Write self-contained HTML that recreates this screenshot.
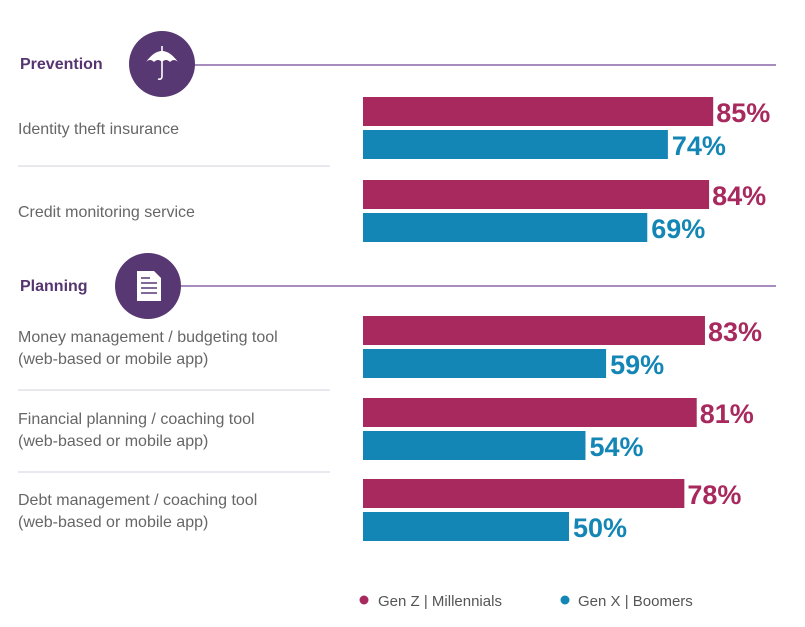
<!DOCTYPE html>
<html><head><meta charset="utf-8"><style>
body{margin:0;background:#fff;width:805px;height:622px;overflow:hidden;font-family:"Liberation Sans",sans-serif}
svg text{font-family:"Liberation Sans",sans-serif}
</style></head><body>
<svg width="805" height="622">
<g>
<text x="20" y="69" font-size="16" font-weight="bold" fill="#55356f">Prevention</text>
<line x1="190" y1="65" x2="776" y2="65" stroke="#a68cbf" stroke-width="2"/>
<circle cx="162" cy="64" r="33" fill="#573873"/>
<path d="M146 62 Q162 40 178 62 Q174 58 170 62 Q166 58 162 62 Q158 58 154 62 Q150 58 146 62Z" fill="#fff"/>
<line x1="162" y1="46" x2="162" y2="76" stroke="#fff" stroke-width="1.6"/>
<path d="M162 76 Q162 80 158 79" stroke="#fff" stroke-width="1.6" fill="none"/>
</g>
<g>
<text x="20" y="291" font-size="16" font-weight="bold" fill="#55356f">Planning</text>
<line x1="175" y1="286" x2="776" y2="286" stroke="#a68cbf" stroke-width="2"/>
<circle cx="148" cy="286" r="33" fill="#573873"/>
<path d="M137 271 H154 L161 278 V301 H137Z" fill="#fff"/>
<g stroke="#573873" stroke-width="1.5"><line x1="141" y1="283" x2="157" y2="283"/><line x1="141" y1="288" x2="157" y2="288"/><line x1="141" y1="293" x2="157" y2="293"/><line x1="141" y1="278" x2="150" y2="278"/></g>
</g>
<g id="rows"></g>
<g>
<circle cx="364" cy="600" r="4.5" fill="#a8295e"/>
<text x="378" y="606" font-size="15" fill="#555">Gen Z  |  Millennials</text>
<circle cx="565" cy="600" r="4.5" fill="#1386b5"/>
<text x="578" y="606" font-size="15" fill="#555">Gen X  |  Boomers</text>
</g>
</svg>
<script>
const categories=[["Identity theft insurance"],["Credit monitoring service"],["Money management / budgeting tool","(web-based or mobile app)"],["Financial planning / coaching tool","(web-based or mobile app)"],["Debt management / coaching tool","(web-based or mobile app)"]];
const genZ=[85,84,83,81,78];
const genX=[74,69,59,54,50];
const rowTops=[97,180,316,398,479];
const x0=363, k=4.12, bh=29;
const xs=v=>k*v;
const g=document.getElementById('rows');
const NS='http://www.w3.org/2000/svg';
function mk(t,a){const e=document.createElementNS(NS,t);for(const n in a)e.setAttribute(n,a[n]);g.appendChild(e);return e;}
categories.forEach((c,i)=>{
 const y=rowTops[i];
 const mid=y+31;
 c.forEach((l,j)=>{const t=mk('text',{x:18,y:(c.length==1?mid+6:mid-5+j*22),'font-size':16,fill:'#666'});t.textContent=l;
 
 });
 const b1=mk('rect',{x:x0,y:y,width:xs(genZ[i]),height:bh,fill:'#a8295e'});
 
 
 const t1=mk('text',{x:x0+xs(genZ[i])+3,y:y+25,'font-size':27,'font-weight':'bold',fill:'#a8295e'});t1.textContent=genZ[i]+'%';
 
 
 const b2=mk('rect',{x:x0,y:y+33,width:xs(genX[i]),height:bh,fill:'#1386b5'});
 
 
 const t2=mk('text',{x:x0+xs(genX[i])+4,y:y+58,'font-size':27,'font-weight':'bold',fill:'#1386b5'});t2.textContent=genX[i]+'%';
 
 
 if(i==0||i==2||i==3){const s=mk('line',{x1:18,x2:330,y1:y+(i==0?69:74),y2:y+(i==0?69:74),stroke:'#e2e0ea','stroke-width':1.5});
 
 }
});
</script>
</body></html>
